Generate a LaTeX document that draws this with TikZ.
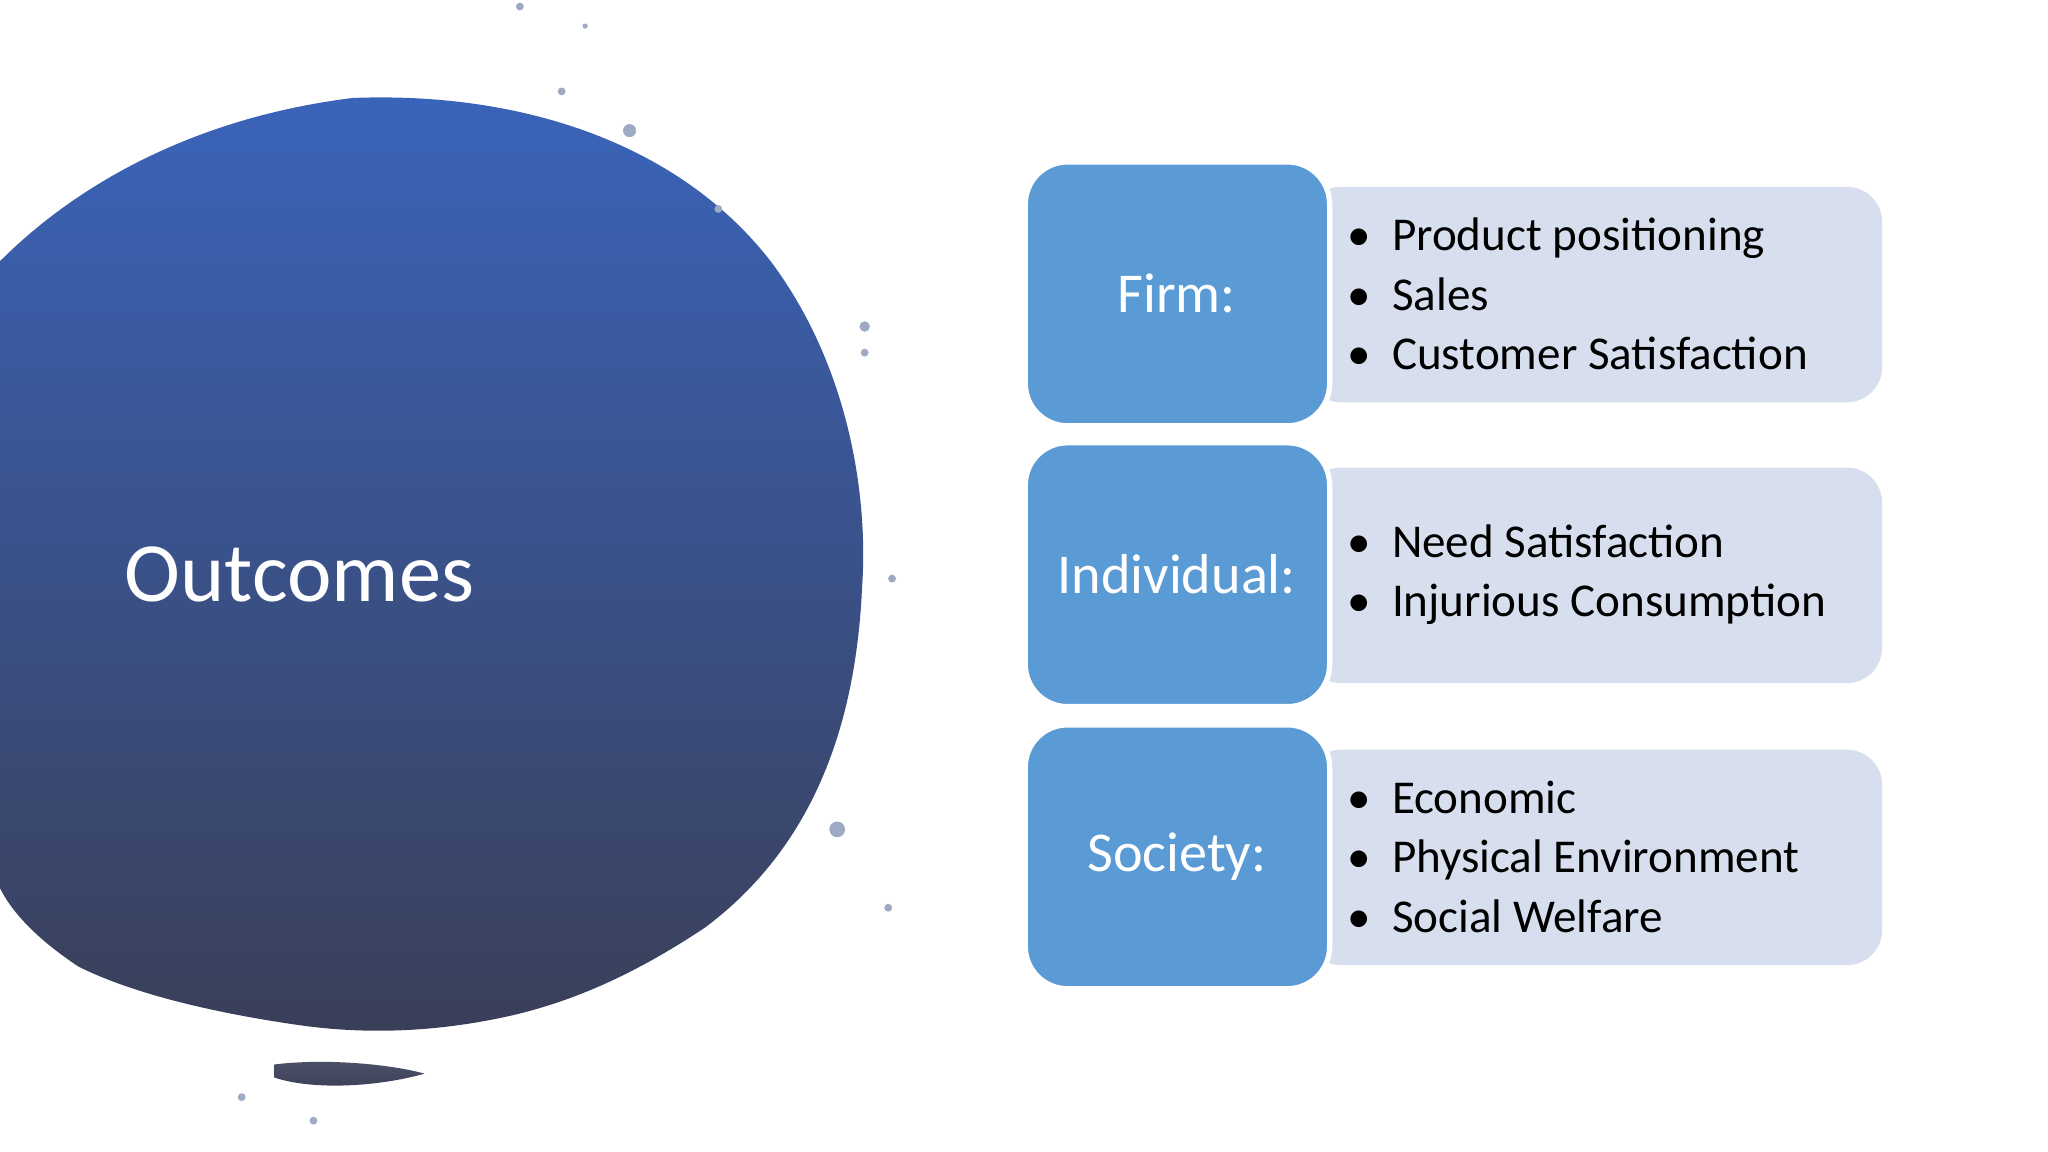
\documentclass[tikz,border=0pt]{standalone}
\usepackage{fontspec}
\setmainfont{Carlito}
\definecolor{boxblue}{HTML}{5B9BD5}
\definecolor{boxlight}{HTML}{D7DFEE}
\definecolor{blobtop}{HTML}{3A64BA}
\definecolor{blobbot}{HTML}{3A3F58}
\begin{document}
\begin{tikzpicture}[x=0.01306cm,y=-0.01306cm,
  leftbox/.style={fill=boxblue,draw=white,line width=1.5pt,rounded corners=12pt},
  rightbox/.style={fill=boxlight,rounded corners=10pt},
  lab/.style={text=white,font=\fontsize{16}{19}\selectfont},
  items/.style={anchor=west,align=left,inner sep=0pt,font=\fontsize{13.4}{17}\selectfont,text=black}]
\useasboundingbox (0,0) rectangle (1568,882);
\fill[white] (0,0) rectangle (1568,882);
% blob
\shade[top color=blobtop,bottom color=blobbot]
 (0,200) .. controls (60,140) and (150,90) .. (270,75)
 .. controls (400,70) and (520,110) .. (590,200)
 .. controls (650,280) and (665,380) .. (660,450)
 .. controls (655,560) and (620,650) .. (540,710)
 .. controls (480,750) and (430,770) .. (380,780)
 .. controls (330,790) and (280,792) .. (230,785)
 .. controls (160,775) and (100,760) .. (60,740)
 .. controls (30,720) and (10,700) .. (0,680) -- cycle;
\shade[top color=blobbot!90,bottom color=blobbot] (210,815) .. controls (250,810) and (300,815) .. (325,822) .. controls (290,832) and (240,835) .. (210,825) -- cycle;
\foreach \p/\r in {{430,70}/3,{482,100}/5,{662,250}/4,{662,270}/3,{683,443}/3,{641,635}/6,{680,695}/3,{240,858}/3,{185,840}/3,{448,20}/2,{398,5}/3,{550,160}/3}
  \fill[blobtop!50!gray!60] (\p) circle (\r);
\node[text=white,font=\fontsize{24}{28}\selectfont,anchor=west,inner sep=0pt] (title) at (95,440) {Outcomes};
% boxes
\foreach \n/\y/\lab in {a/225/Firm:,b/440/Individual:,c/656/Society:}{
  \fill[rightbox] (1000,\y-82) rectangle (1441,\y+83);
  \draw[leftbox] (785,\y-101) rectangle (1018,\y+101);
  \node[lab] (\n) at (901,\y) {\lab};
}
\node[items] (ta) at (1031,225) {\textbullet\ \ Product positioning\\\textbullet\ \ Sales\\\textbullet\ \ Customer Satisfaction};
\node[items] (tb) at (1031,440) {\textbullet\ \ Need Satisfaction\\\textbullet\ \ Injurious Consumption};
\node[items] (tc) at (1031,656) {\textbullet\ \ Economic\\\textbullet\ \ Physical Environment\\\textbullet\ \ Social Welfare};
\end{tikzpicture}
\end{document}
